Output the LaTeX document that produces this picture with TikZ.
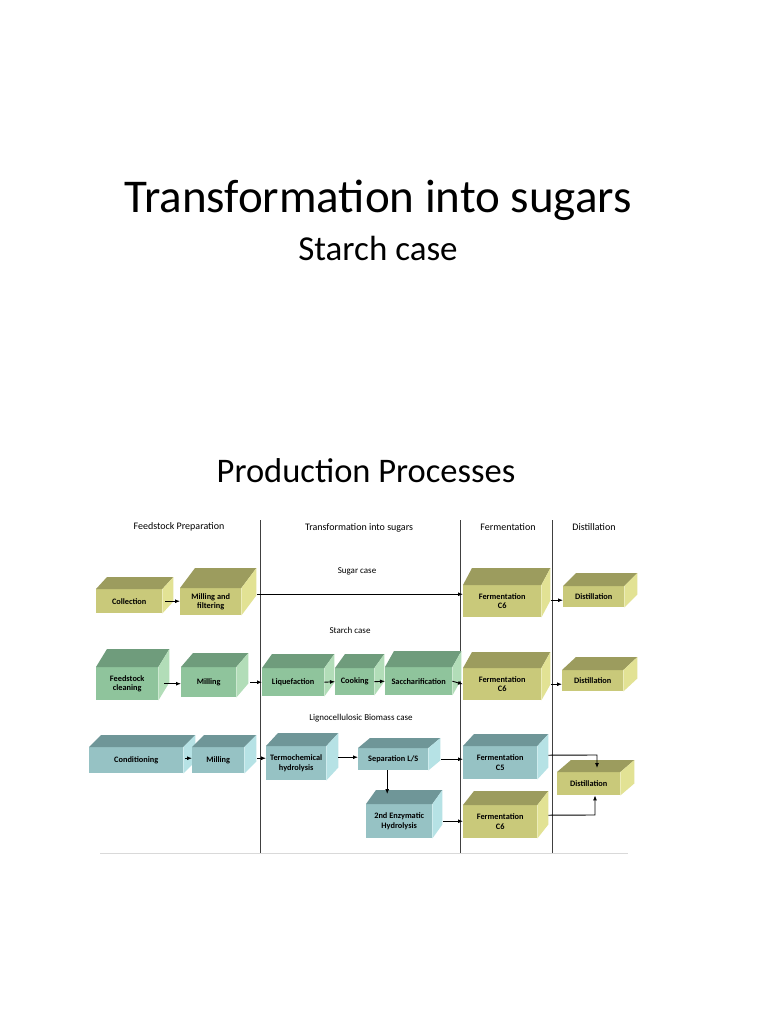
\documentclass[tikz,border=0pt]{standalone}
\usepackage{fontspec}
\setmainfont{Carlito}
\usetikzlibrary{calc,arrows.meta}
\definecolor{yF}{HTML}{C9C97A}\definecolor{yT}{HTML}{9C9C5E}\definecolor{yS}{HTML}{E2E294}
\definecolor{gF}{HTML}{8FC49C}\definecolor{gT}{HTML}{6F9C7C}\definecolor{gS}{HTML}{B2DDB8}
\definecolor{tF}{HTML}{96C2C4}\definecolor{tT}{HTML}{6F9698}\definecolor{tS}{HTML}{B6E2E5}
\tikzset{boxtxt/.style={font=\fontsize{8.3}{9.5}\selectfont\bfseries,align=center,inner sep=0pt,anchor=north west},
 arr/.style={-{Latex[length=5pt,width=4pt]},line width=0.9pt},
 divider/.style={line width=0.9pt,draw=black!75},
 hdr/.style={font=\fontsize{10}{12}\selectfont},
 case/.style={font=\fontsize{9}{11}\selectfont}}
\newcommand{\mycube}[9]{%
 \node[boxtxt,fill=#8F,minimum width=#4pt,minimum height=#5pt] (#1) at (#2,#3) {#9};
 \fill[#8T] (#1.north west) -- ++(#6,-#7) -- ($(#1.north east)+(#6,-#7)$) -- (#1.north east) -- cycle;
 \fill[#8S] (#1.north east) -- ++(#6,-#7) -- ($(#1.south east)+(#6,-#7)$) -- (#1.south east) -- cycle;
}
\begin{document}
\begin{tikzpicture}[x=1pt,y=-1pt]
\useasboundingbox[fill=white] (0,0) rectangle (768,1024);
\node (t1) at (378,200) {\fontsize{47}{52}\selectfont Transformation into sugars};
\node (t2) at (378,248) {\fontsize{35}{40}\selectfont Starch case};
\node (t3) at (366,471) {\fontsize{34.5}{40}\selectfont Production Processes};
\node[hdr] (h1) at (179,527) {Feedstock Preparation};
\node[hdr] (h2) at (359,528) {Transformation into sugars};
\node[hdr] (h3) at (508,527) {Fermentation};
\node[hdr] (h4) at (594,527) {Distillation};
\node[case] (c1) at (357,571) {Sugar case};
\node[case] (c2) at (350,630) {Starch case};
\node[case] (c3) at (361,718) {Lignocellulosic Biomass case};
\coordinate (d1a) at (260,520);\coordinate (d1b) at (260,853);
\coordinate (d2a) at (460,520);\coordinate (d2b) at (460,853);
\coordinate (d3a) at (552,520);\coordinate (d3b) at (552,853);
\coordinate (bla) at (100,853);\coordinate (blb) at (628,853);
\draw[black!15,line width=0.8pt] (bla) -- (blb);
\draw[divider] (d1a) -- (d1b);
\draw[divider] (d2a) -- (d2b);
\draw[divider] (d3a) -- (d3b);
% row 1
\mycube{col}{96}{589}{66}{24}{11}{12}{y}{Collection}
\mycube{mif}{180}{588}{61}{27}{15}{20}{y}{Milling and\\filtering}
\mycube{fe1}{463}{585}{78}{32}{9}{17}{y}{Fermentation\\C6}
\mycube{di1}{563}{586}{61}{21}{13}{13}{y}{Distillation}
% row 2
\mycube{fsc}{96}{667}{62}{33}{11}{18}{g}{Feedstock\\cleaning}
\mycube{mil}{181}{667}{55}{30}{12}{14}{g}{Milling}
\mycube{liq}{262}{668}{62}{28}{10}{14}{g}{Liquefaction}
\mycube{coo}{335}{668}{39}{27}{10}{14}{g}{Cooking}
\mycube{sac}{385}{667}{67}{28}{9}{16}{g}{Saccharification}
\mycube{fe2}{463}{668}{78}{32}{9}{16}{y}{Fermentation\\C6}
\mycube{di2}{562}{670}{61}{21}{14}{13}{y}{Distillation}
% row 3
\mycube{con}{89}{747}{94}{26}{12}{12}{t}{Conditioning}
\mycube{mi3}{192}{747}{52}{26}{12}{12}{t}{Milling}
\mycube{ter}{266}{746}{60}{34}{12}{13}{t}{Termochemical\\hydrolysis}
\mycube{sep}{358}{748}{70}{22}{12}{10}{t}{Separation L/S}
\mycube{enz}{366}{804}{66}{34}{10}{14}{t}{2nd Enzymatic\\Hydrolysis}
\mycube{fc5}{463}{746}{74}{33}{11}{12}{t}{Fermentation\\C5}
\mycube{fc6}{463}{805}{74}{33}{11}{14}{y}{Fermentation\\C6}
\mycube{di3}{557}{772}{63}{23}{14}{12}{y}{Distillation}
% arrows
\coordinate (a1) at ($(col.east)+(3,0)$);   \draw[arr] (a1) -- (mif.west |- a1);
\coordinate (a2) at ($(mif.east)+(16,-7.5)$); \draw[arr] (a2) -- (fe1.west |- a2);
\coordinate (a3) at ($(fe1.east)+(10,-1)$); \draw[arr] (a3) -- (di1.west |- a3);
\coordinate (a4) at ($(fsc.east)+(6,0)$);   \draw[arr] (a4) -- (mil.west |- a4);
\coordinate (a5) at ($(mil.east)+(14,0)$);  \draw[arr] (a5) -- (liq.west |- a5);
\draw[arr] (liq.east) -- (coo.west);
\draw[arr] (coo.east) -- (sac.west);
\draw[arr] (sac.east) -- (fe2.west);
\coordinate (a6) at ($(fe2.east)+(10,0)$);  \draw[arr] (a6) -- (di2.west |- a6);
\coordinate (a7) at ($(con.east)+(2,-2)$);  \draw[arr] (a7) -- (mi3.west |- a7);
\coordinate (a8) at ($(mi3.east)+(13,-2)$); \draw[arr] (a8) -- (ter.west |- a8);
\coordinate (a9) at ($(ter.east)+(12,-6)$); \draw[arr] (a9) -- (sep.west |- a9);
\coordinate (a10) at ($(sep.east)+(13,0)$); \draw[arr] (a10) -- (fc5.west |- a10);
\coordinate (a11) at ($(sep.south)+(-6,0)$); \draw[arr] (a11) -- ($(enz.north -| a11)+(0,-10)$);
\coordinate (a12) at ($(enz.east)+(11,0)$); \draw[arr] (a12) -- (fc6.west |- a12);
\coordinate (k1) at (597,755);
\coordinate (k2) at (595,815);
\coordinate (a13) at ($(fc5.east)+(11,-7.5)$);
\coordinate (a14) at ($(fc6.east)+(11,-6.5)$);
\draw[arr] (a13) -- (k1) -- ($(di3.north -| k1)+(0,-4)$);
\draw[arr] (a14) -- (k2) -- ($(di3.south -| k2)$);
\end{tikzpicture}
\end{document}
